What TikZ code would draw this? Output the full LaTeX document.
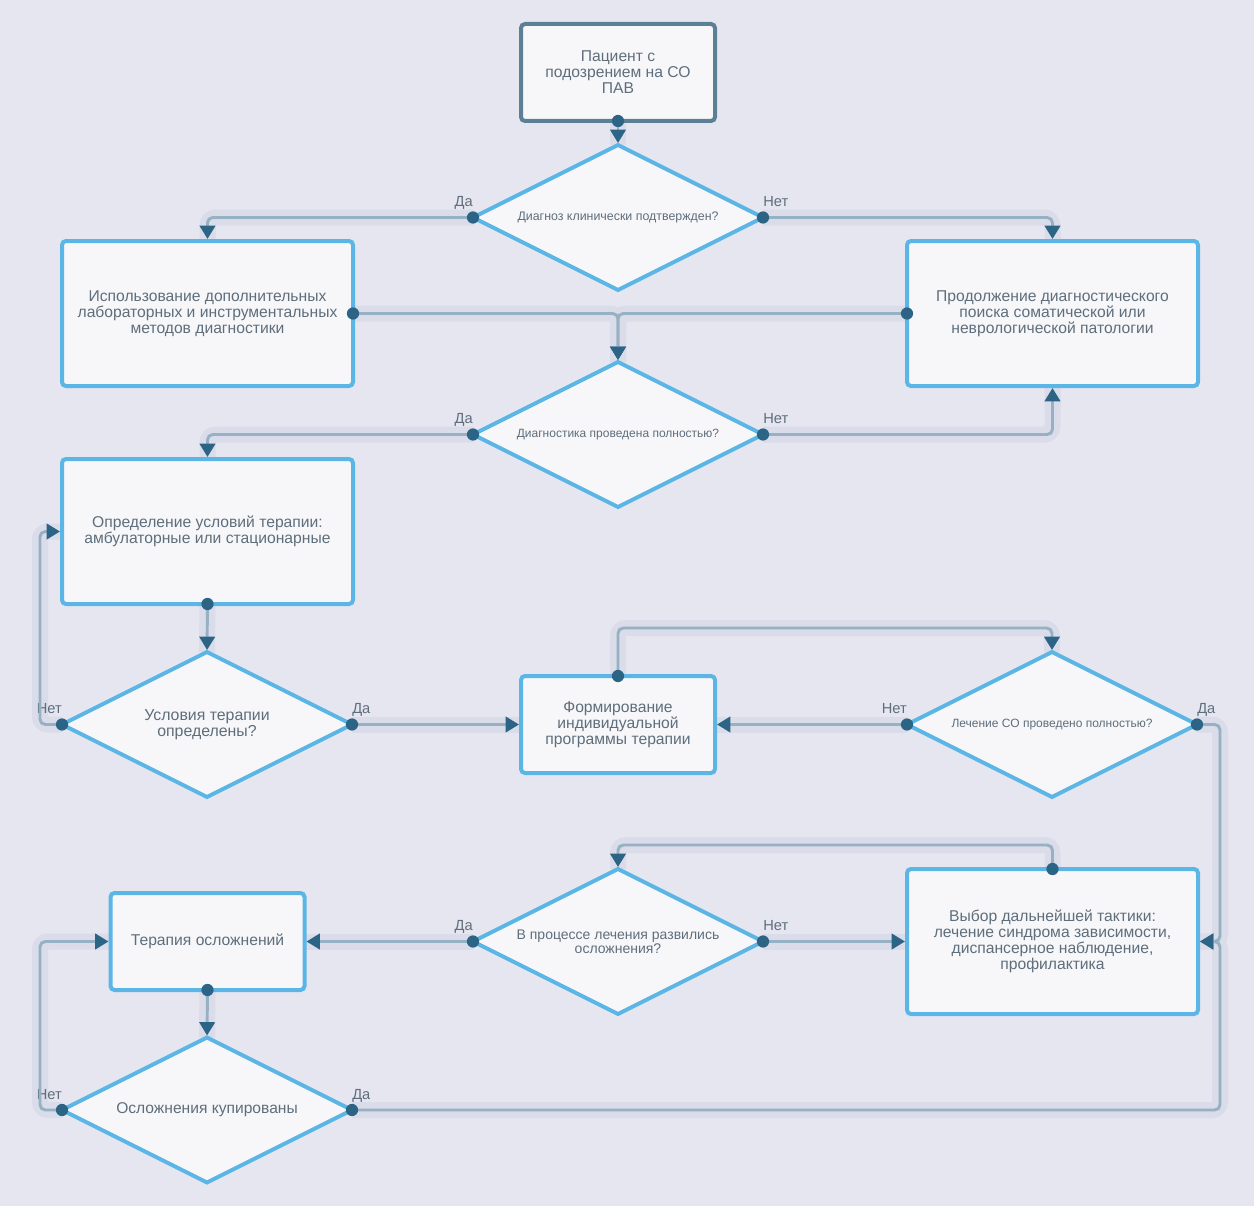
\documentclass[tikz,border=0pt]{standalone}
\usepackage{fontspec}
\setmainfont{Liberation Sans}
\usetikzlibrary{shapes.geometric,arrows.meta}

\definecolor{bgc}{RGB}{230,230,241}
\definecolor{fillc}{RGB}{247,247,250}
\definecolor{boxc}{RGB}{92,182,229}
\definecolor{startc}{RGB}{91,128,150}
\definecolor{txtc}{RGB}{94,110,124}
\definecolor{linec}{RGB}{150,176,196}
\definecolor{haloc}{RGB}{218,220,233}
\definecolor{dotc}{RGB}{43,100,133}

\pgfdeclarelayer{halolayer}
\pgfdeclarelayer{toplayer}
\pgfsetlayers{halolayer,main,toplayer}

\tikzset{
  box/.style={draw=boxc, line width=3pt, fill=fillc, rounded corners=3pt,
    align=center, text=txtc, inner sep=0pt, outer sep=0pt,
    font=\fontsize{11.75}{12}\selectfont},
  bigbox/.style={box, minimum width=218.25pt, minimum height=108.75pt},
  smallbox/.style={box, minimum width=145.5pt, minimum height=72.75pt},
  ask/.style={diamond, aspect=2, draw=boxc, line width=3pt, fill=fillc,
    minimum width=217.5pt, minimum height=108.75pt, inner sep=0pt,
    outer sep=0pt, align=center, text=txtc},
  halo/.style={draw=haloc, line width=12pt, rounded corners=6pt},
  conn/.style={draw=linec, line width=2.2pt, rounded corners=4pt, shorten >=1.5pt,
    -{Triangle[width=11.5pt,length=10pt,color=dotc]}},
  yesno/.style={text=txtc, inner sep=0pt, font=\fontsize{11}{12}\selectfont},
  leftlbl/.style={yesno, anchor=base east},
  rightlbl/.style={yesno, anchor=base west}
}

% connector: halo under the shapes, line and tip above them
\newcommand\link[1]{%
  \begin{pgfonlayer}{halolayer}\path[halo] #1;\end{pgfonlayer}%
  \begin{pgfonlayer}{toplayer}\draw[conn] #1;\end{pgfonlayer}}

\begin{document}
\begin{tikzpicture}[x=0.75pt,y=0.75pt,yscale=-1,xscale=1]
  \begin{pgfonlayer}{halolayer}
    \fill[bgc] (0,0) rectangle (1254,1206);
  \end{pgfonlayer}
  \useasboundingbox (0,0) rectangle (1254,1206);

  % shapes
  \node[smallbox, draw=startc] (start) at (618,72.5) {Пациент с\\подозрением на СО\\ПАВ};
  \node[ask, font=\fontsize{9.3}{10}\selectfont] (d1) at (618,217.5) {Диагноз клинически подтвержден?};
  \node[bigbox] (l1) at (207.5,313.5) {Использование дополнительных\\лабораторных и инструментальных\\методов диагностики};
  \node[bigbox] (r1) at (1052.5,313.5) {Продолжение диагностического\\поиска соматической или\\неврологической патологии};
  \node[ask, font=\fontsize{9}{10}\selectfont] (d2) at (618,434.5) {Диагностика проведена полностью?};
  \node[bigbox] (l2) at (207.5,531.5) {Определение условий терапии:\\амбулаторные или стационарные};
  \node[ask, font=\fontsize{11.9}{12}\selectfont] (d3) at (207,724.5) {Условия терапии\\определены?};
  \node[smallbox] (m) at (618,724.5) {Формирование\\индивидуальной\\программы терапии};
  \node[ask, font=\fontsize{9}{10}\selectfont] (d4) at (1052,724.5) {Лечение СО проведено полностью?};
  \node[ask, font=\fontsize{10.5}{10.5}\selectfont] (d5) at (618,941.5) {В процессе лечения развились\\осложнения?};
  \node[bigbox] (r3) at (1052.5,941.5) {Выбор дальнейшей тактики:\\лечение синдрома зависимости,\\диспансерное наблюдение,\\профилактика};
  \node[smallbox] (l3) at (207.5,941.5) {Терапия осложнений};
  \node[ask, font=\fontsize{11.7}{12}\selectfont] (d6) at (207,1110) {Осложнения купированы};

  \coordinate (rbus) at (1220,941.5);

  % connectors
  \link{(start.south) -- (d1.north)}
  \link{(d1.west) -| (l1.north)}
  \link{(d1.east) -| (r1.north)}
  \link{(l1.east) -| (d2.north)}
  \link{(r1.west) -| (d2.north)}
  \link{(d2.west) -| (l2.north)}
  \link{(d2.east) -| (r1.south)}
  \link{(l2.south) -- (d3.north)}
  \link{(d3.west) -- ++(-22,0) |- (l2.west)}
  \link{(d3.east) -- (m.west)}
  \link{(m.north) -- ++(0,-48) -| (d4.north)}
  \link{(d4.west) -- (m.east)}
  \link{(d4.east) -| (rbus) -- (r3.east)}
  \link{(r3.north) -- ++(0,-24) -| (d5.north)}
  \link{(d5.west) -- (l3.east)}
  \link{(d5.east) -- (r3.west)}
  \link{(l3.south) -- (d6.north)}
  \link{(d6.west) -- ++(-22,0) |- (l3.west)}
  \link{(d6.east) -| (rbus) -- (r3.east)}

  \begin{pgfonlayer}{toplayer}
    \foreach \p in {start.south,d1.west,d1.east,l1.east,r1.west,d2.west,d2.east,
        l2.south,d3.west,d3.east,m.north,d4.west,d4.east,r3.north,d5.west,d5.east,
        l3.south,d6.west,d6.east}
      \fill[dotc] (\p) circle (4.6pt);
  \end{pgfonlayer}

  % yes / no
  \node[leftlbl] (y1) at ([yshift=-8pt]d1.west) {Да};
  \node[rightlbl] (n1) at ([yshift=-8pt]d1.east) {Нет};
  \node[leftlbl] (y2) at ([yshift=-8pt]d2.west) {Да};
  \node[rightlbl] (n2) at ([yshift=-8pt]d2.east) {Нет};
  \node[leftlbl] (n3) at ([yshift=-8pt]d3.west) {Нет};
  \node[rightlbl] (y3) at ([yshift=-8pt]d3.east) {Да};
  \node[leftlbl] (n4) at ([yshift=-8pt]d4.west) {Нет};
  \node[rightlbl] (y4) at ([yshift=-8pt]d4.east) {Да};
  \node[leftlbl] (y5) at ([yshift=-8pt]d5.west) {Да};
  \node[rightlbl] (n5) at ([yshift=-8pt]d5.east) {Нет};
  \node[leftlbl] (n6) at ([yshift=-8pt]d6.west) {Нет};
  \node[rightlbl] (y6) at ([yshift=-8pt]d6.east) {Да};
\end{tikzpicture}
\end{document}
